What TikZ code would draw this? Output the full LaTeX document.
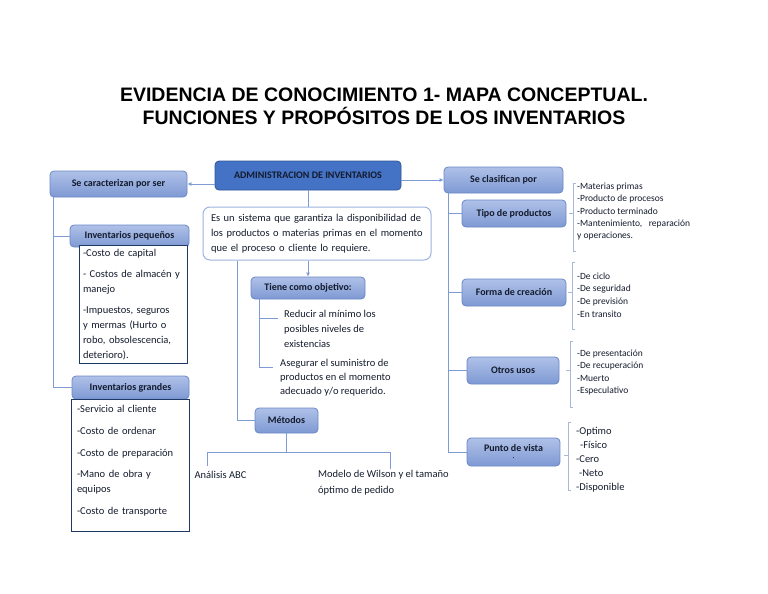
\documentclass[tikz,border=0pt]{standalone}
\usepackage{fontspec}
\setmainfont{Carlito}
\newfontfamily\titlefont{Liberation Sans}
\usepackage{xcolor}
\definecolor{blue500}{HTML}{4472C4}
\definecolor{blue700}{HTML}{2F5597}
\definecolor{blue300}{HTML}{AFC1E8}
\definecolor{blue400}{HTML}{7E99D3}
\definecolor{edge400}{HTML}{6A87C5}
\definecolor{line400}{HTML}{7F9BD3}
\definecolor{gray300}{HTML}{A9B8D6}
\definecolor{note300}{HTML}{9DB3E0}
\definecolor{navy900}{HTML}{1F3864}
\definecolor{ink900}{HTML}{141B2D}
\usepackage{tikz}
\usetikzlibrary{arrows.meta, positioning, calc}

% side bracket in front of a list: x, top, bottom, middle
\newcommand{\sidebrace}[4]{%
  \draw[brace] (#1+3,#2) -- (#1,#2) -- (#1,#3) -- (#1+3,#3);
  \draw[brace] (#1,#4) -- (#1-4,#4);}

\begin{document}
\begin{tikzpicture}[
        x=1pt, y=-1pt,
        topic/.style={draw=edge400, line width=0.8pt, rounded corners=4pt, top color=blue300, bottom color=blue400, text=ink900, font=\fontsize{10}{12}\selectfont\bfseries, inner sep=2pt, align=center},
        root/.style={draw=blue700, line width=0.8pt, rounded corners=4pt, fill=blue500, text=ink900, font=\fontsize{10}{12}\selectfont\bfseries, inner sep=2pt},
        note/.style={draw=note300, line width=1pt, rounded corners=7pt, fill=white, text=ink900, font=\fontsize{10.5}{15}\selectfont, align=left, inner xsep=8pt},
        listbox/.style={draw=navy900, line width=0.7pt, fill=white, text=ink900, font=\fontsize{10.5}{15}\selectfont, align=left},
        leaf/.style={text=ink900, font=\fontsize{10.5}{15}\selectfont, align=left, inner sep=0pt},
        side/.style={text=ink900, font=\fontsize{9.5}{12.3}\selectfont, align=left, inner sep=0pt},
        link/.style={draw=line400, line width=0.9pt},
        pointer/.style={-{Latex[length=4pt,width=4pt]}},
        brace/.style={draw=gray300, line width=0.6pt}
    ]
        \useasboundingbox (0,0) rectangle (768,594);

        % Title
        \node[font=\titlefont\fontsize{19.5}{23}\selectfont\bfseries, align=center] (title) at (384,106.5)
            {EVIDENCIA DE CONOCIMIENTO 1- MAPA CONCEPTUAL.\\FUNCIONES Y PROPÓSITOS DE LOS INVENTARIOS};

        % Central concept
        \node[root, minimum width=186, minimum height=29] (admin) at (308,175.5) {ADMINISTRACION DE INVENTARIOS};
        \node[topic, minimum width=137, minimum height=26] (trait) at (118.5,184) {Se caracterizan por ser};
        \node[topic, minimum width=119, minimum height=26] (kind) at (503.5,180) {Se clasifican por};
        \node[note, text width=212, minimum height=53] (def) at (317,233.5)
            {Es un sistema que garantiza la disponibilidad de los productos o materias primas en el momento que el proceso o cliente lo requiere.};

        % Left branch
        \node[topic, minimum width=119, minimum height=22] (small) at (129.5,236) {Inventarios pequeños};
        \node[listbox, minimum width=108, minimum height=115, text width=100, inner xsep=4pt] (smalllist) at (133,304.5)
            {-Costo de capital\\[6pt]- Costos de almacén y\\manejo\\[6pt]-Impuestos, seguros\\y mermas (Hurto o\\robo, obsolescencia,\\deterioro).};
        \node[topic, minimum width=117, minimum height=23] (large) at (130.5,387.5) {Inventarios grandes};
        \node[listbox, minimum width=114, minimum height=132, text width=106, inner xsep=6pt] (largelist) at (130,465)
            {-Servicio al cliente\\[7pt]-Costo de ordenar\\[7pt]-Costo de preparación\\[6pt]-Mano de obra y\\equipos\\[7pt]-Costo de transporte\\[-4pt]\mbox{}};

        % Middle branch
        \node[topic, minimum width=114, minimum height=22] (goal) at (308,288) {Tiene como objetivo:};
        \node[leaf, anchor=west] (aim1) at (284,329) {Reducir al mínimo los\\posibles niveles de\\existencias};
        \node[leaf, anchor=west, font=\fontsize{10.5}{14}\selectfont] (aim2) at (280,378) {Asegurar el suministro de\\productos en el momento\\adecuado y/o requerido.};
        \node[topic, minimum width=63, minimum height=25] (method) at (286.5,420.5) {Métodos};
        \node[leaf] (abc) at (220.5,475) {Análisis ABC};
        \node[leaf, anchor=west, font=\fontsize{10.5}{16}\selectfont] (wilson) at (318,483) {Modelo de Wilson y el tamaño\\óptimo de pedido};

        % Right branch
        \node[topic, minimum width=104, minimum height=27] (product) at (514,213.5) {Tipo de productos};
        \node[topic, minimum width=104, minimum height=27] (origin) at (514,292.5) {Forma de creación};
        \node[topic, minimum width=92, minimum height=27] (use) at (513,370.5) {Otros usos};
        \node[topic, minimum width=93, minimum height=28] (view) at (513.5,452) {Punto de vista\\[-5pt]{\fontsize{7}{7}\selectfont .}};

        \node[side, anchor=west] (productlist) at (577,211.5)
            {-Materias primas\\-Producto de procesos\\-Producto terminado\\-Mantenimiento,\ \ \ reparación\\y operaciones.};
        \node[side, anchor=west, font=\fontsize{9.5}{12.7}\selectfont] (originlist) at (577,295)
            {-De ciclo\\-De seguridad\\-De previsión\\-En transito};
        \node[side, anchor=west] (uselist) at (577,372.5)
            {-De presentación\\-De recuperación\\-Muerto\\-Especulativo};
        \node[side, anchor=west, font=\fontsize{10.5}{14}\selectfont] (viewlist) at (576,460)
            {-Optimo\\\hspace{4pt}-Físico\\-Cero\\\hspace{3pt}-Neto\\-Disponible};

        \sidebrace{573}{183}{251}{213.5}
        \sidebrace{572}{262}{329}{292.5}
        \sidebrace{570}{341}{407}{370.5}
        \sidebrace{568}{422}{490}{455}

        % Connectors from the central concept
        \draw[link, pointer] (admin.west |- trait.east) -- (trait.east);
        \draw[link, pointer] (admin.east |- kind.west) -- (kind.west);
        \draw[link] (admin.south) -- (admin.south |- def.north);
        \draw[link, pointer] (goal.north |- def.south) -- (goal.north);
        \draw[link] ([xshift=-80pt]def.south) |- (method.west);

        % Left spine
        \coordinate (trunk) at ([xshift=-65.5pt]trait.south);
        \draw[link] (trunk) |- (large.west);
        \draw[link] (trunk |- small.west) -- (small.west);

        % Objectives
        \coordinate (aimtrunk) at ([xshift=-49pt]goal.south);
        \draw[link] (aimtrunk) |- ([xshift=-6pt,yshift=11pt]aim1.west);
        \draw[link] (aimtrunk) |- ([xshift=-7pt,yshift=11pt]aim2.west);

        % Methods fork
        \coordinate (fork) at ([yshift=-19pt]method.south);
        \draw[link] (method.south) -- (fork);
        \draw[link] (fork) -| ([xshift=-13.5pt,yshift=5pt]abc.north);
        \draw[link] (fork) -| ([xshift=72pt,yshift=1pt]wilson.north west);

        % Right spine
        \coordinate (kindtrunk) at ([xshift=-55.5pt]kind.south);
        \draw[link] (kindtrunk) |- (view.west);
        \foreach \n in {product, origin, use}
            \draw[link] (kindtrunk |- \n.west) -- (\n.west);
    \end{tikzpicture}
\end{document}
